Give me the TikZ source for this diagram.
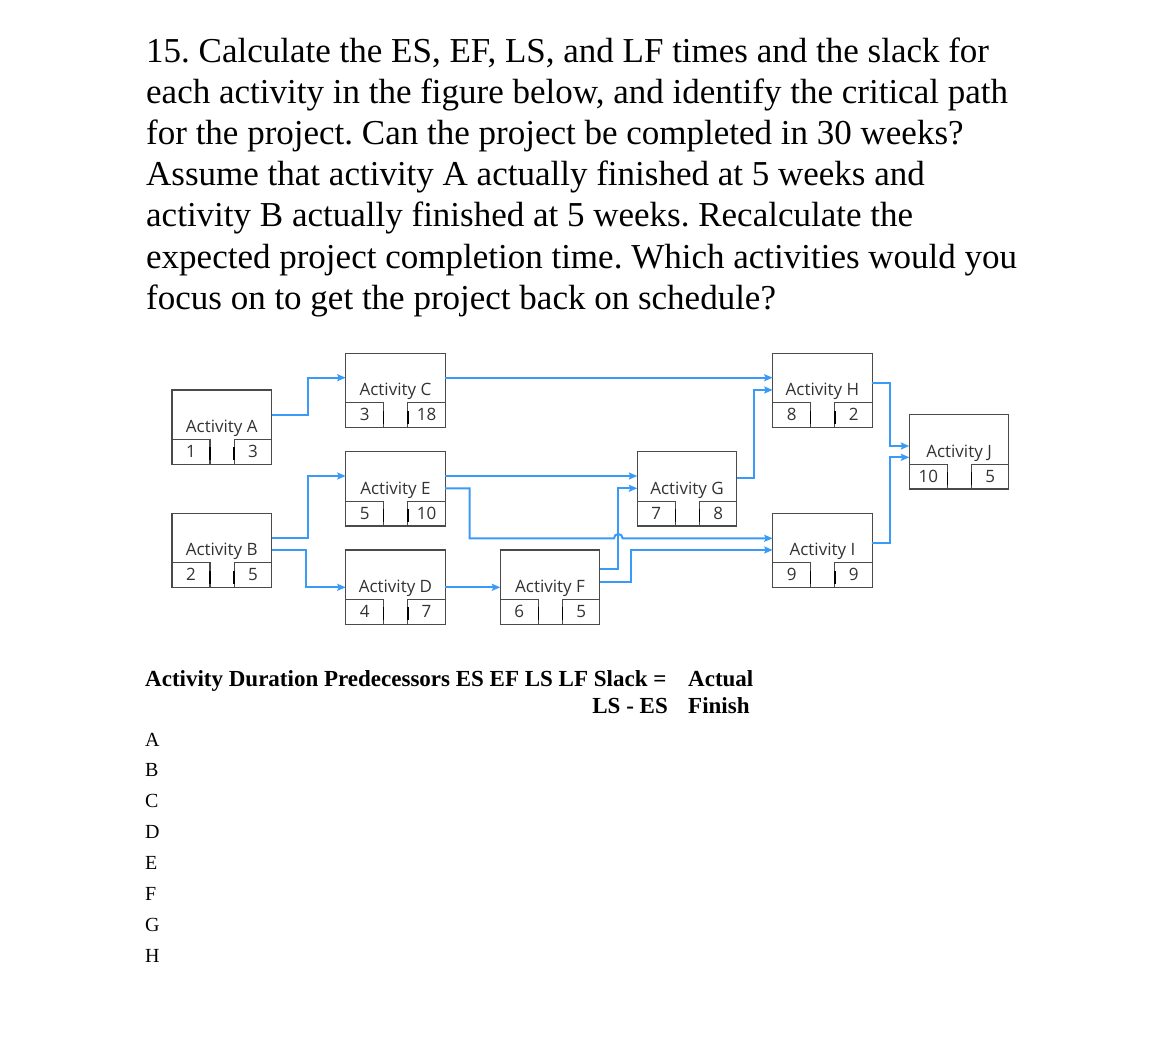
\documentclass[tikz,border=0pt]{standalone}
\usepackage{fontspec}
\setmainfont{Liberation Serif}
\newfontfamily\boxfont{Open Sans}
\usetikzlibrary{arrows.meta,calc}
\definecolor{arrowblue}{HTML}{3A9AF7}
\definecolor{boxgray}{HTML}{4A4A4A}
\definecolor{txtgray}{HTML}{333333}
\frenchspacing
\tikzset{
  abox/.style={draw=boxgray, line width=1.1pt, minimum width=99.5pt, minimum height=74.3pt, inner sep=0pt, outer sep=0pt},
  alab/.style={font=\boxfont\fontsize{17}{19}\selectfont, text=txtgray, inner sep=0pt},
  bline/.style={draw=boxgray, line width=1.1pt},
  tick/.style={draw=black, line width=1.5pt},
  conn/.style={draw=arrowblue, line width=2pt, -{Stealth[length=8.5pt,width=7pt,inset=1.5pt]}},
  title/.style={font=\fontsize{35}{41}\selectfont, inner sep=0pt, anchor=base west},
  hdr/.style={font=\bfseries\fontsize{23}{26}\selectfont, inner sep=0pt, anchor=base west},
  rowlab/.style={font=\fontsize{20}{23}\selectfont, inner sep=0pt, anchor=base west}
}
\newcommand\actbox[6]{%
  \node[abox, anchor=north west] (#1) at (#2,-#3) {};
  \node[alab, anchor=base] (#1-lab) at ([yshift=-42.3pt]#1.north) {#4};
  \draw[bline] ([yshift=24.8pt]#1.south west) -- ++(38,0) -- ++(0,-24.8);
  \draw[bline] ([yshift=24.8pt]#1.south east) -- ++(-37.3,0) -- ++(0,-24.8);
  \draw[tick] ([xshift=38pt,yshift=4pt]#1.south west) -- ++(0,13);
  \draw[tick] ([xshift=-37.3pt,yshift=4pt]#1.south east) -- ++(0,13);
  \node[alab, anchor=base] (#1-es) at ([xshift=19pt,yshift=6.7pt]#1.south west) {#5};
  \node[alab, anchor=base] (#1-d) at ([xshift=-18.6pt,yshift=6.7pt]#1.south east) {#6};
}
\begin{document}
\begin{tikzpicture}[x=1pt,y=1pt]
\useasboundingbox[fill=white] (0,0) rectangle (1170,-1063);

% title
\node[title] (t1) at (146,-62.5) {15. Calculate the ES, EF, LS, and LF times and the slack for};
\node[title] (t2) at (146,-103.6) {each activity in the figure below, and identify the critical path};
\node[title] (t3) at (146,-144.7) {for the project. Can the project be completed in 30 weeks?};
\node[title] (t4) at (146,-185.8) {Assume that activity A actually finished at 5 weeks and};
\node[title] (t5) at (146,-226.9) {activity B actually finished at 5 weeks. Recalculate the};
\node[title] (t6) at (146,-268) {expected project completion time. Which activities would you};
\node[title] (t7) at (146,-309.1) {focus on to get the project back on schedule?};

% activity boxes
\actbox{A}{172}{390}{Activity A}{1}{3}
\actbox{B}{172}{513.3}{Activity B}{2}{5}
\actbox{C}{345.7}{353.3}{Activity C}{3}{18}
\actbox{E}{345.7}{451.7}{Activity E}{5}{10}
\actbox{D}{345.7}{550}{Activity D}{4}{7}
\actbox{G}{637.3}{451.7}{Activity G}{7}{8}
\actbox{F}{500.3}{550}{Activity F}{6}{5}
\actbox{H}{772.7}{353.3}{Activity H}{8}{2}
\actbox{I}{772.7}{513.3}{Activity I}{9}{9}
\actbox{J}{909.3}{414.7}{Activity J}{10}{5}

% connectors
\draw[conn] ([yshift=-25pt]A.north east) -- ++(36.3,0) |- ([yshift=-24.4pt]C.north west);
\draw[conn] ([yshift=-24.4pt]B.north east) -- ++(36.3,0) |- ([yshift=-24.3pt]E.north west);
\draw[conn] ([yshift=-36.7pt]B.north east) -- ++(34.7,0) |- ([yshift=-37.3pt]D.north west);
\draw[conn] ([yshift=-24.4pt]C.north east) -- ([yshift=-24.4pt]H.north west);
\draw[conn] ([yshift=-24.3pt]E.north east) -- ([yshift=-24.3pt]G.north west);
\draw[conn] ([yshift=-37.3pt]D.north east) -- ([yshift=-37.3pt]F.north west);
\draw[conn] ([yshift=-19pt]F.north east) -- ++(18.6,0) |- ([yshift=-36.6pt]G.north west);
\coordinate (hopL) at (614,-538.3);
\draw[conn] ([yshift=-36.6pt]E.north east) -- ++(24.3,0) |- (hopL) arc[start angle=180, end angle=0, radius=4.3] -- ([yshift=-25pt]I.north west);
\draw[conn] ([yshift=-31.7pt]F.north east) -- ++(31,0) |- ([yshift=-36.7pt]I.north west);
\draw[conn] ([yshift=-26pt]G.north east) -- ++(17.3,0) |- ([yshift=-36.7pt]H.north west);
\draw[conn] ([yshift=-30pt]H.north east) -- ++(18,0) |- ([yshift=-31.3pt]J.north west);
\draw[conn] ([yshift=-30pt]I.north east) -- ++(18,0) |- ([yshift=-42.6pt]J.north west);

% table header
\node[hdr] (h1) at (145,-686) {Activity Duration Predecessors ES EF LS LF Slack =};
\node[hdr] (h2) at (688,-686) {Actual};
\node[hdr, anchor=base east] (h3) at (668,-713.5) {LS - ES};
\node[hdr] (h4) at (688,-713.5) {Finish};

% rows
\node[rowlab] (rA) at (145,-746) {A};
\node[rowlab] (rB) at (145,-776.9) {B};
\node[rowlab] (rC) at (145,-807.8) {C};
\node[rowlab] (rD) at (145,-838.7) {D};
\node[rowlab] (rE) at (145,-869.6) {E};
\node[rowlab] (rF) at (145,-900.5) {F};
\node[rowlab] (rG) at (145,-931.4) {G};
\node[rowlab] (rH) at (145,-962.3) {H};
\end{tikzpicture}
\end{document}
